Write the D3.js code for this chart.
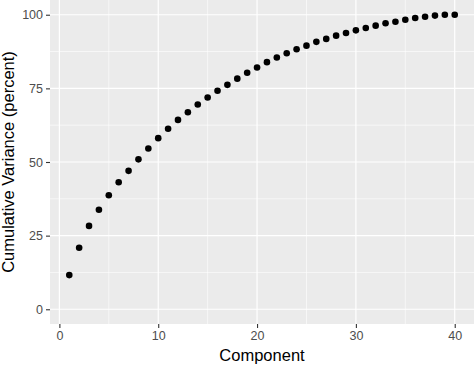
<!DOCTYPE html>
<html lang="en">
<head>
    <meta charset="UTF-8">
    <title>Cumulative variance</title>
    <script src="https://cdn.jsdelivr.net/npm/d3@7"></script>
    <style>
        body { margin: 0; background: #fff; }
        text { font-family: "Liberation Sans", Arial, sans-serif; }
    </style>
</head>
<body>
    <script>
        // cumulative variance
        const components = d3.range(1, 41)
        const cumVariance = [
            11.6, 20.9, 28.3, 33.8, 38.7, 43.1, 47.0, 50.9, 54.6, 58.1,
            61.3, 64.3, 66.9, 69.5, 71.9, 74.2, 76.2, 78.3, 80.3, 82.1,
            83.9, 85.5, 86.9, 88.3, 89.5, 90.8, 91.8, 92.9, 93.8, 94.7,
            95.5, 96.3, 97.1, 97.6, 98.3, 98.9, 99.3, 99.7, 100.0, 100.0
        ]
        const xTicks = [0, 10, 20, 30, 40]
        const xMinor = [5, 15, 25, 35]
        const yTicks = [0, 25, 50, 75, 100]
        const yMinor = [12.5, 37.5, 62.5, 87.5]

        const w = 474
        const h = 365
        const pLeft = 50, pRight = 474, pTop = 0, pBottom = 324

        const data = components.map((c, i) => ({comp: c, value: cumVariance[i]}))

        const svg = d3.select("body").append("svg").attr("width", w).attr("height", h)

        const x = d3.scaleLinear().domain([-0.95, 41.95]).range([pLeft, pRight])
        const y = d3.scaleLinear().domain([-5, 105]).range([pBottom, pTop])

        // panel
        svg.append("rect")
            .attr("x", pLeft).attr("y", pTop)
            .attr("width", pRight - pLeft).attr("height", pBottom - pTop)
            .attr("fill", "#ebebeb")

        const grid = svg.append("g")
        grid.selectAll(".ymin").data(yMinor).enter().append("line")
            .attr("x1", pLeft).attr("x2", pRight)
            .attr("y1", d => y(d)).attr("y2", d => y(d))
            .attr("stroke", "#fff").attr("stroke-width", 0.6)
        grid.selectAll(".xmin").data(xMinor).enter().append("line")
            .attr("y1", pTop).attr("y2", pBottom)
            .attr("x1", d => x(d)).attr("x2", d => x(d))
            .attr("stroke", "#fff").attr("stroke-width", 0.6)
        grid.selectAll(".ymaj").data(yTicks).enter().append("line")
            .attr("x1", pLeft).attr("x2", pRight)
            .attr("y1", d => y(d)).attr("y2", d => y(d))
            .attr("stroke", "#fff").attr("stroke-width", 1.2)
        grid.selectAll(".xmaj").data(xTicks).enter().append("line")
            .attr("y1", pTop).attr("y2", pBottom)
            .attr("x1", d => x(d)).attr("x2", d => x(d))
            .attr("stroke", "#fff").attr("stroke-width", 1.2)

        // axes
        const xAxis = d3.axisBottom(x).tickValues(xTicks).tickSize(4).tickPadding(3)
        const yAxis = d3.axisLeft(y).tickValues(yTicks).tickSize(4).tickPadding(3)

        const gx = svg.append("g").attr("transform", `translate(0, ${pBottom})`).call(xAxis)
        const gy = svg.append("g").attr("transform", `translate(${pLeft}, 0)`).call(yAxis)
        for (const g of [gx, gy]) {
            g.select(".domain").remove()
            g.selectAll(".tick line").attr("stroke", "#333").attr("stroke-width", 1.1)
            g.selectAll(".tick text").attr("fill", "#4d4d4d")
                .style("font-size", "12.5px")
                .style("font-family", "'Liberation Sans', Arial, sans-serif")
        }

        // points
        svg.append("g").selectAll("circle")
            .data(data).enter()
            .append("circle")
            .attr("cx", d => x(d.comp))
            .attr("cy", d => y(d.value))
            .attr("r", 3.3)
            .attr("fill", "#000")

        // titles
        svg.append("text")
            .attr("x", (pLeft + pRight) / 2).attr("y", 360.5)
            .attr("text-anchor", "middle")
            .style("font-size", "16.5px")
            .text("Component")

        svg.append("text")
            .attr("transform", `translate(14, ${(pTop + pBottom) / 2}) rotate(-90)`)
            .attr("text-anchor", "middle")
            .style("font-size", "16.5px")
            .text("Cumulative Variance (percent)")
    </script>
</body>
</html>
